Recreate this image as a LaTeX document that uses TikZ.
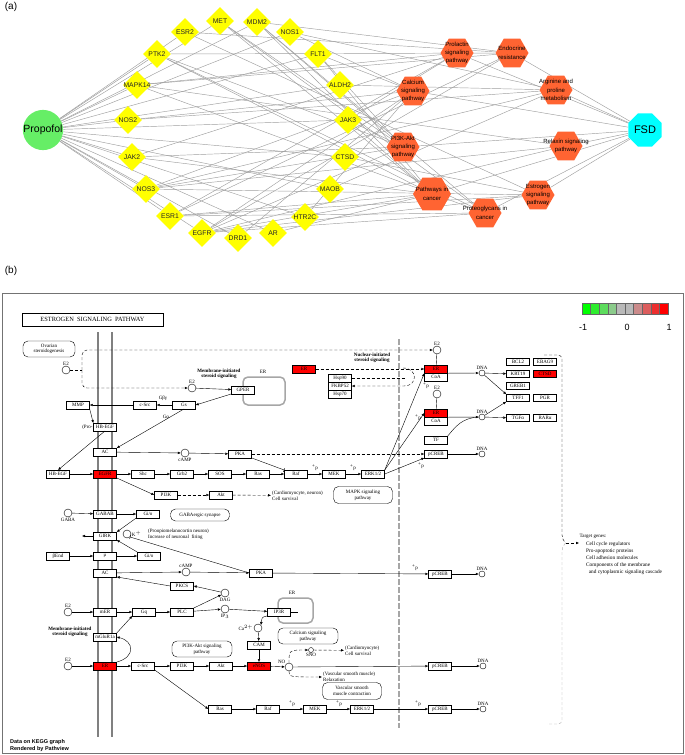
\documentclass[tikz,border=0pt]{standalone}
\usepackage{fontspec}
\setmainfont{Liberation Serif}
\setsansfont{Liberation Sans}
\usetikzlibrary{arrows.meta,shapes.geometric,backgrounds}

\definecolor{drugc}{RGB}{102,238,102}
\definecolor{pathc}{RGB}{255,100,50}
\definecolor{fsdc}{RGB}{0,255,255}
\definecolor{genec}{RGB}{255,255,0}
\definecolor{kgray}{RGB}{185,185,185}
\newcommand{\keggfont}{\fontsize{5}{5.6}\selectfont}
\newcommand{\genefont}{\sffamily\fontsize{6.8}{8}\selectfont}
\newcommand{\pathfont}{\sffamily\fontsize{6}{8.3}\selectfont}

\begin{document}
\begin{tikzpicture}[
    x=1pt, y=-1pt,
    gene/.style={diamond, fill=genec, minimum width=28, minimum height=28, inner sep=0pt,
        label={[font=\genefont, text=black!85]center:#1}},
    pathway/.style={regular polygon, regular polygon sides=6, fill=pathc, minimum size=33,
        inner sep=0pt, label={[font=\pathfont, text=black, align=center]center:{#1}}},
    link/.style={black!38, line width=0.45pt},
    box/.style={draw, fill=white, minimum width=23, minimum height=7.5, inner sep=0pt, font=\keggfont},
    hit/.style={box, fill=red},
    cpd/.style={circle, draw, fill=white, minimum size=8, inner sep=0pt},
    lab/.style={font=\keggfont, inner sep=0.5pt},
    map/.style={draw, rounded corners=5pt, align=center, font=\keggfont, inner sep=1.5pt},
    ercomp/.style={draw=black!35, line width=1.5pt, rounded corners=5pt},
    arr/.style={-{Latex[length=3pt, width=2.6pt]}},
    dsh/.style={dash pattern=on 3pt off 2pt},
    note/.style={font=\keggfont, align=left, anchor=west, inner sep=1pt}
]
\useasboundingbox (0,0) rectangle (685,755);

% ---------------- (a) network ----------------
\node[font=\sffamily\fontsize{10}{12}\selectfont] (tagA) at (11,7) {(a)};
\node[circle, fill=drugc, minimum size=40, inner sep=0pt, font=\sffamily\fontsize{10.5}{12}\selectfont] (propofol) at (43,130) {Propofol};
\node[regular polygon, regular polygon sides=8, fill=fsdc, minimum size=36, inner sep=0pt, font=\sffamily\fontsize{11}{12}\selectfont] (fsd) at (645,130) {FSD};

% Targets
\node[gene=ESR2] (gESR2) at (185,32) {};
\node[gene=MET] (gMET) at (220,21) {};
\node[gene=MDM2] (gMDM2) at (257,22) {};
\node[gene=NOS1] (gNOS1) at (290,32) {};
\node[gene=PTK2] (gPTK2) at (157,54) {};
\node[gene=FLT1] (gFLT1) at (318,54) {};
\node[gene=MAPK14] (gMAPK) at (137,85) {};
\node[gene=ALDH2] (gALDH) at (340,85) {};
\node[gene=NOS2] (gNOS2) at (128,120) {};
\node[gene=JAK3] (gJAK3) at (348,120) {};
\node[gene=JAK2] (gJAK2) at (132,157) {};
\node[gene=CTSD] (gCTSD) at (345,157) {};
\node[gene=NOS3] (gNOS3) at (146,189) {};
\node[gene=MAOB] (gMAOB) at (330,189) {};
\node[gene=ESR1] (gESR1) at (170,216) {};
\node[gene=HTR2C] (gHTR) at (305,217) {};
\node[gene=EGFR] (gEGFR) at (202,233) {};
\node[gene=DRD1] (gDRD1) at (238,238) {};
\node[gene=AR] (gAR) at (273,233) {};

% Pathways
\node[pathway={Prolactin\\signaling\\pathway}] (pPRL) at (457,53) {};
\node[pathway={Endocrine\\resistance}] (pEND) at (512,53) {};
\node[pathway={Calcium\\signaling\\pathway}] (pCAL) at (413,91) {};
\node[pathway={Arginine and\\proline\\metabolism}] (pARG) at (556,90) {};
\node[pathway={PI3K-Akt\\signaling\\pathway}] (pPI3K) at (403,147) {};
\node[pathway={Relaxin signaling\\pathway}] (pREL) at (566,146) {};
\node[pathway={Pathways in\\cancer}, minimum size=38] (pCAN) at (432,194) {};
\node[pathway={Estrogen\\signaling\\pathway}] (pEST) at (538,195) {};
\node[pathway={Proteoglycans in\\cancer}] (pPRO) at (485,213) {};

\begin{scope}[on background layer]
\foreach \g in {gESR2,gMET,gMDM2,gNOS1,gPTK2,gFLT1,gMAPK,gALDH,gNOS2,gJAK3,gJAK2,gCTSD,gNOS3,gMAOB,gESR1,gHTR,gEGFR,gDRD1,gAR}
    \draw[link] (propofol) -- (\g);
\foreach \p in {pPRL,pEND,pCAL,pARG,pPI3K,pREL,pCAN,pEST,pPRO}
    \draw[link] (\p) -- (fsd);
\foreach \g/\p in {gESR2/pEST,gESR2/pEND,gMET/pPI3K,gMET/pCAN,gMET/pPRO,gMDM2/pEND,gMDM2/pPI3K,gMDM2/pCAN,gMDM2/pPRO,
    gNOS1/pARG,gNOS1/pCAL,gPTK2/pPI3K,gPTK2/pCAN,gPTK2/pPRO,gPTK2/pEND,gFLT1/pCAL,gFLT1/pPI3K,gFLT1/pCAN,
    gMAPK/pPRL,gMAPK/pREL,gMAPK/pPRO,gMAPK/pEND,gALDH/pARG,gNOS2/pARG,gNOS2/pCAL,gJAK3/pPRL,gJAK3/pPI3K,gJAK3/pCAN,
    gJAK2/pPRL,gJAK2/pPI3K,gJAK2/pCAN,gCTSD/pEST,gNOS3/pARG,gNOS3/pCAL,gNOS3/pPI3K,gNOS3/pREL,gNOS3/pEST,gMAOB/pARG,
    gESR1/pPRL,gESR1/pEND,gESR1/pEST,gESR1/pCAN,gESR1/pPRO,gHTR/pCAL,gEGFR/pEND,gEGFR/pCAL,gEGFR/pPI3K,gEGFR/pREL,
    gEGFR/pEST,gEGFR/pCAN,gEGFR/pPRO,gDRD1/pCAL,gAR/pCAN}
    \draw[link] (\g) -- (\p);
\end{scope}

% ---------------- (b) KEGG map ----------------
\node[font=\sffamily\fontsize{10}{12}\selectfont] (tagB) at (11,271) {(b)};
\draw[black!55, line width=0.8pt] (2,293) rectangle (683,753);
\node[draw, minimum width=141, minimum height=13, inner sep=0pt, font=\fontsize{6.4}{7}\selectfont] (title) at (92.5,319.5) {ESTROGEN\ \ SIGNALING\ \ PATHWAY};

% Colour key
\foreach \c [count=\i from 0] in {green,green!75!kgray,green!50!kgray,green!25!kgray,kgray,kgray,red!25!kgray,red!50!kgray,red!75!kgray,red}
    \filldraw[fill=\c, draw=black!60, line width=0.3pt] (582+8.6*\i,303) rectangle ++(8.6,11);
\node[font=\sffamily\fontsize{9}{10}\selectfont] (keylo) at (583,327) {-1};
\node[font=\sffamily\fontsize{9}{10}\selectfont] (keymid) at (627,327) {0};
\node[font=\sffamily\fontsize{9}{10}\selectfont] (keyhi) at (669,327) {1};

% Membrane and nuclear envelope
\draw[black!50, line width=1.6pt] (98,332) -- (98,737);
\draw[black!50, line width=1.6pt] (112,332) -- (112,737);
\draw[black!35, line width=2.6pt, dash pattern=on 6pt off 2pt] (399,339) -- (399,728);

% ER compartments
\node[ercomp, minimum width=42, minimum height=28] (erc1) at (264,391) {};
\node[lab] (erc1lab) at (263,372) {ER};
\node[ercomp, minimum width=35, minimum height=25] (erc2) at (295.5,610.5) {};
\node[lab] (erc2lab) at (292,593) {ER};

% Upper membrane part
\node[map, minimum width=52, minimum height=16] (ovary) at (49,349) {Ovarian\\steroidogenesis};
\node[cpd, label={[lab]above:E2}] (e2a) at (66,370) {};
\coordinate (fork) at (82,370);
\node[font=\keggfont\bfseries, align=center, inner sep=0pt] (mis1) at (219,374) {Membrane-initiated\\steroid signaling};
\node[cpd, label={[lab]above:E2}] (e2b) at (192,388) {};
\node[box] (gper) at (243,390) {GPER};
\node[box] (gs) at (184,405) {Gs};
\node[box] (csrc1) at (145,405) {c-Src};
\node[box] (mmp) at (78,405) {MMP};
\node[lab] (gbg) at (163,398) {Gβγ};
\node[lab] (ga) at (166,417) {Gα};
\node[box, label={[lab]left:(Pro-}] (prohb) at (105,427) {HB-EGF};
\node[box] (hbegf) at (58,474) {HB-EGF};
\node[box] (ac1) at (105,452) {AC};
\node[cpd, label={[lab]below:cAMP}] (camp1) at (185,453) {};
\node[box] (pka1) at (240,454) {PKA};
\node[hit] (egfr) at (105,474) {EGFR};
\node[box] (shc) at (143,474) {Shc};
\node[box] (grb2) at (182,474) {Grb2};
\node[box] (sos) at (220,474) {SOS};
\node[box] (ras1) at (258,474) {Ras};
\node[box] (raf1) at (296,474) {Raf};
\node[box] (mek1) at (334,474) {MEK};
\node[box] (erk1) at (373,474) {ERK1/2};
\node[box] (pi3k1) at (166,495) {PI3K};
\node[box] (akt1) at (221,495) {Akt};
\node[note] (surv1) at (271,495.5) {(Cardiomyocyte, neuron)\\Cell survival};
\node[map, minimum width=59, minimum height=17] (mapk) at (363,495) {MAPK signaling\\pathway};
\node[lab] (p1) at (315,468) {\textsuperscript{+}p};
\node[lab] (p2) at (353,468) {\textsuperscript{+}p};

% Nucleus
\node[font=\keggfont\bfseries, align=center, inner sep=0pt] (nis) at (372,358) {Nuclear-initiated\\steroid signaling};
\node[hit] (ercyt) at (304,369) {ER};
\node[box, minimum height=8] (hsp90) at (340,378) {Hsp90};
\node[box, minimum height=8] (fkbp) at (340,386) {FKBP52};
\node[box, minimum height=8] (hsp70) at (340,394) {Hsp70};
\node[cpd, label={[lab]above:E2}] (e2c) at (437,350) {};
\node[hit, minimum height=8] (ernuc1) at (436,369) {ER};
\node[box, minimum height=8] (coa1) at (436,377) {CoA};
\node[cpd, label={[lab]above:E2}] (e2d) at (437,394) {};
\node[hit, minimum height=8] (ernuc2) at (436,413) {ER};
\node[box, minimum height=8] (coa2) at (436,421) {CoA};
\node[box] (tf) at (436,440) {TF};
\node[box] (pcreb1) at (436,454) {pCREB};
\node[lab] (p3) at (426,386) {\textsuperscript{+}p};
\node[lab] (p4) at (418,418) {\textsuperscript{+}p};
\node[lab] (p5) at (421,466) {\textsuperscript{+}p};

\node[cpd, minimum size=6, label={[lab]above:DNA}] (dna1) at (482,373) {};
\node[cpd, minimum size=6, label={[lab]above:DNA}] (dna2) at (482,417) {};
\node[cpd, minimum size=6, label={[lab]above:DNA}] (dna3) at (482,454) {};
\node[cpd, minimum size=6, label={[lab]above:DNA}] (dna4) at (482,574) {};
\node[cpd, minimum size=6, label={[lab]above:DNA}] (dna5) at (483,666) {};
\node[cpd, minimum size=6, label={[lab]above:DNA}] (dna6) at (483,709) {};

\node[box, minimum height=7] (bcl2) at (518,362) {BCL2};
\node[box, minimum height=7] (ebag9) at (545,362) {EBAG9};
\node[box, minimum height=7] (krt19) at (518,374) {KRT19};
\node[hit, minimum height=7] (ctsd) at (545,374) {CTSD};
\node[box, minimum height=7] (greb1) at (518,386) {GREB1};
\node[box, minimum height=7] (tff1) at (518,398) {TFF1};
\node[box, minimum height=7] (pgr) at (545,398) {PGR};
\node[box, minimum height=7] (tgfa) at (518,418) {TGFα};
\node[box, minimum height=7] (rara) at (545,418) {RARα};

% Target genes
\draw[dsh, rounded corners=4pt] (544,355) -- (562,355) -- (562,539) -- (565.5,543);
\draw[dsh, black!35, rounded corners=4pt] (565.5,543) -- (562,547) -- (562,724) -- (547,724);
\coordinate (brace) at (566,543);
\node[lab, anchor=west] (tghead) at (579,536) {Target genes:};
\node[note, font=\fontsize{5.3}{7}\selectfont] (tglist) at (585,558) {Cell cycle regulators\\Pro-apoptotic proteins\\Cell adhesion molecules\\Components of the membrane\\\ \ and cytoplasmic signaling cascade};

% Lower membrane part
\node[cpd, label={[lab]below:GABA}] (gaba) at (68,513) {};
\node[box] (gabab) at (105,514) {GABAB};
\node[box] (gio1) at (148,514) {Gi/o};
\node[map, minimum width=59, minimum height=12] (gabasyn) at (200,515) {GABAergic synapse};
\node[box] (girk) at (105,536) {GIRK};
\coordinate (kout) at (82,536);
\node[cpd, label={[lab]right:K$^+$}] (kplus) at (127,534) {};
\node[note] (pomc) at (147,534.5) {(Proopiomelanocortin neuron)\\Increase of neuronal\ \ firing};
\node[box] (bend) at (58,556) {βEnd};
\node[box] (mu) at (105,556) {μ};
\node[box] (gio2) at (149,556) {Gi/o};
\node[box] (ac2) at (105,573) {AC};
\node[cpd, label={[lab]above:cAMP}] (camp2) at (186,572) {};
\node[box] (pka2) at (261,573) {PKA};
\node[box] (pcreb2) at (440,574) {pCREB};
\node[lab] (p6) at (415,568) {\textsuperscript{+}p};
\node[box] (pkcs) at (182,586) {PKCS};
\node[cpd, label={[lab]below:DAG}] (dag) at (225,593) {};
\node[cpd, label={[lab]below:IP$_3$}] (ip3) at (225,609) {};
\node[box] (plc) at (182,612) {PLC};
\node[box] (gq) at (144,612) {Gq};
\node[box] (mer) at (105,612) {mER};
\node[cpd, label={[lab]above:E2}] (e2e) at (68,612) {};
\node[font=\keggfont\bfseries, align=center, inner sep=0pt] (mis2) at (70,632) {Membrane-initiated\\steroid signaling};
\node[box] (mglu) at (105,637) {mGluR1a};
\node[map, minimum width=60, minimum height=16] (pi3kmap) at (202,649) {PI3K-Akt signaling\\pathway};
\node[cpd, label={[lab]above:E2}] (e2f) at (68,666) {};
\node[hit] (ermem) at (105,666) {ER};
\node[box] (csrc2) at (143,666) {c-Src};
\node[box] (pi3k2) at (182,666) {PI3K};
\node[box] (akt2) at (221,666) {Akt};
\node[box] (ras2) at (220,709) {Ras};
\node[box] (raf2) at (268,709) {Raf};
\node[box] (mek2) at (315,709) {MEK};
\node[box] (erk2) at (362,709) {ERK1/2};
\node[box] (pcreb4) at (440,709) {pCREB};
\node[lab] (p7) at (292,704) {\textsuperscript{+}p};
\node[lab] (p8) at (339,704) {\textsuperscript{+}p};
\node[lab] (p9) at (418,704) {\textsuperscript{+}p};
\node[box] (ip3r) at (279,612) {IP3R};
\node[cpd, label={[lab]left:Ca$^{2+}$}] (ca) at (258,628) {};
\node[box] (cam) at (259,645) {CAM};
\node[hit] (enos) at (259,666) {eNOS};
\node[map, minimum width=60, minimum height=16] (calmap) at (308,636) {Calcium signaling\\pathway};
\node[cpd, label={[lab]above left:NO}] (no) at (289,667) {};
\node[box] (pcreb3) at (440,666) {pCREB};
\node[cpd, minimum size=5, label={[lab]below:SNO}] (sno) at (311,650) {};
\node[note] (surv2) at (344,650.5) {(Cardiomyocyte)\\Cell survival};
\node[note] (relax) at (322,677) {(Vascular smooth muscle)\\Relaxation};
\node[map, minimum width=59, minimum height=17] (vsmc) at (352,691) {Vascular smooth\\muscle contraction};

\node[font=\sffamily\bfseries\fontsize{5.5}{7}\selectfont, align=left, anchor=west, inner sep=0pt] (credit) at (10,745.5) {Data on KEGG graph\\Rendered by Pathview};

% Connections: upper part
\draw[dsh] (e2a) -- (fork);
\draw[dsh, arr, rounded corners=5pt] (fork) |- (e2c);
\draw[dsh, arr, rounded corners=5pt] (fork) |- (e2b);
\draw[arr] (e2b) -- (gper);
\draw[arr] (gper.south west) -- (gs.east);
\draw[arr] (gs) -- (csrc1);
\draw[arr] (csrc1) -- (mmp);
\draw[arr] (mmp.south east) -- (prohb.north west);
\draw[arr] (prohb.south) -- (hbegf.north);
\draw[arr] (gs.south) -- (ac1.north east);
\draw[arr] (hbegf) -- (egfr);
\draw[arr] (ac1) -- (camp1);
\draw[arr] (camp1) -- (pka1);
\draw[dsh, arr] (pka1) -- (pcreb1);
\draw[-{Bar[width=4pt]}] (pka1.south east) -- (raf1.north west);
\draw[arr] (egfr) -- (shc);
\draw[arr] (shc) -- (grb2);
\draw[arr] (grb2) -- (sos);
\draw[arr] (sos) -- (ras1);
\draw[arr] (ras1) -- (raf1);
\draw[arr] (raf1) -- (mek1);
\draw[arr] (mek1) -- (erk1);
\draw[arr] (egfr.south east) -- (pi3k1.west);
\draw[dsh, arr] (pi3k1) -- (akt1);
\draw[dsh, arr] (akt1) -- (surv1);
\draw[arr] (erk1.north east) -- (ernuc1.south west);
\draw[arr] (erk1.north east) -- (ernuc2.west);
\draw[arr] (erk1.east) -- (pcreb1.south west);

% Connections: nucleus
\draw[dsh, arr] (ercyt) -- (ernuc1);
\draw[dsh] (hsp90.east) -- (405,378);
\draw[dsh, arr] (403,368) .. controls (418,368) and (418,386) .. (404,386) -- (fkbp.east);
\draw (e2c) -- (ernuc1);
\draw (e2d) -- (ernuc2);
\draw[arr] (ernuc1.south east) -- (dna1);
\draw[arr] (ernuc2.south east) -- (dna2);
\draw (tf.north east) .. controls (456,426) and (462,418) .. (dna2.west);
\draw[arr] (dna1) -- (krt19);
\draw[arr] (dna1) -- (tff1.north west);
\draw[arr] (dna2) -- (tff1.south west);
\draw[arr] (dna2) -- (tgfa);
\draw[arr] (pcreb1) -- (dna3);
\draw[dsh, arr] (brace) -- (tghead.west |- brace);

% Connections: lower part
\draw[arr] (gaba) -- (gabab);
\draw[arr] (gabab) -- (gio1);
\draw[arr] (gio1.south west) -- (girk.north east);
\draw[arr] (girk) -- (kout);
\draw[arr] (gio2.north west) -- (girk.south east);
\draw[arr] (bend) -- (mu);
\draw[arr] (mu) -- (gio2);
\draw[-{Bar[width=4pt]}] (pka2.west) -- (kplus.south east);
\draw[arr] (ac2) -- (camp2);
\draw[arr] (camp2) -- (pka2);
\draw[arr] (pka2) -- (pcreb2);
\draw[arr] (pcreb2) -- (dna4);
\draw[arr] (pkcs.west) -- (ac2.south east);
\draw[arr] (dag) -- (pkcs.east);
\draw[arr] (plc.north east) -- (dag);
\draw[arr] (plc) -- (ip3);
\draw[arr] (gq) -- (plc);
\draw[arr] (mer) -- (gq);
\draw[arr] (e2e) -- (mer);
\draw[arr] (mglu.north east) -- (gq.south west);
\draw[arr] (ermem.north east) .. controls (136,657) and (134,641) .. (mglu.east);
\draw[arr] (e2f) -- (ermem);
\draw[arr] (ermem) -- (csrc2);
\draw[arr] (csrc2) -- (pi3k2);
\draw[arr] (pi3k2) -- (akt2);
\draw[arr] (akt2) -- (enos);
\draw[arr] (csrc2.south east) -- (ras2.west);
\draw[arr] (ras2) -- (raf2);
\draw[arr] (raf2) -- (mek2);
\draw[arr] (mek2) -- (erk2);
\draw[arr] (erk2) -- (pcreb4);
\draw[arr] (pcreb4) -- (dna6);
\draw[arr] (ip3) -- (ip3r);
\draw (ip3r.east) -- ++(7,0);
\draw[arr] (ip3r.south west) .. controls (262,617) .. (ca.north east);
\draw[arr] (ca) -- (cam);
\draw[arr] (cam) -- (enos);
\draw[arr] (enos) -- (no);
\draw[arr] (no) -- (pcreb3);
\draw[arr] (pcreb3) -- (dna5);
\draw[dsh, arr] (no.north) .. controls (289,650) .. (sno.west);
\draw[dsh, arr] (sno) -- (surv2);
\draw[dsh, arr] (no.south) .. controls (289,677) .. (relax.west);

\end{tikzpicture}
\end{document}
